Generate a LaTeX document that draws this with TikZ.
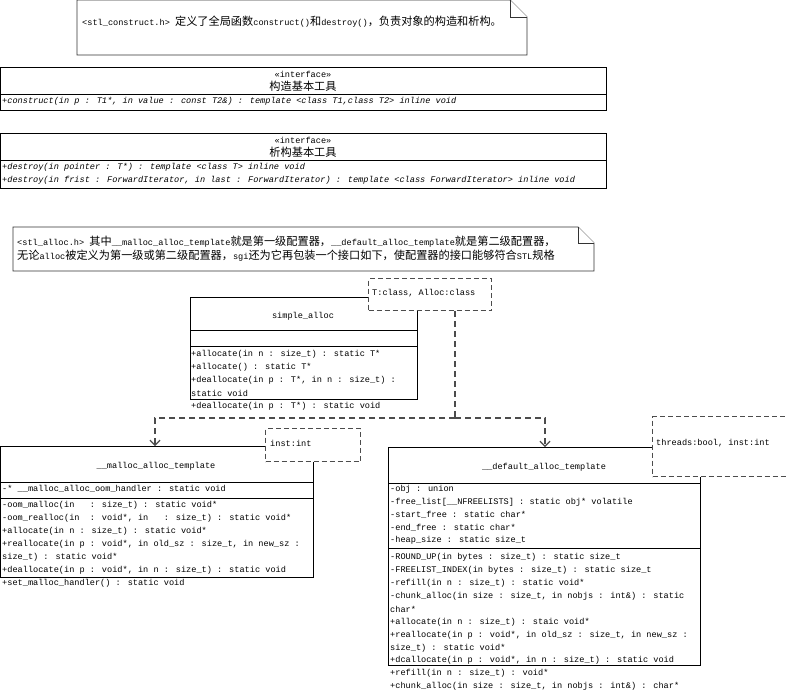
\documentclass[tikz,border=0pt]{standalone}
\usepackage{fontspec}
\setmainfont{Liberation Mono}
\newfontfamily\cjk{Noto Sans CJK SC}[Scale=1.3]
\usetikzlibrary{arrows.meta}
\tikzset{
  box/.style={draw=black, line width=0.8pt, fill=white},
  tbox/.style={draw=black!70, dashed, dash pattern=on 5pt off 3pt, line width=1.2pt, fill=white},
  dep/.style={draw=black!70, dash pattern=on 6pt off 4pt, line width=1.2pt},
  ln/.style={anchor=west, inner sep=0pt, font=\fontsize{8.6}{10}\selectfont},
  it/.style={ln, font=\fontsize{8.6}{10}\selectfont\itshape},
  ctr/.style={anchor=center, inner sep=0pt, font=\fontsize{8.6}{10}\selectfont},
  notebox/.style={draw=black!80, line width=0.8pt, fill=white}
}
\begin{document}
\begin{tikzpicture}[x=1pt,y=-1pt]
\useasboundingbox (0,0) rectangle (786,691);
% note 1
\draw[notebox] (77,0) -- (510,0) -- (527,17) -- (527,55) -- (77,55) -- cycle;
\draw[notebox] (510,0) -- (510,17) -- (527,17);
\node[ln] (n1) at (82,22) {<stl\_construct.h> {\cjk 定义了全局函数}construct(){\cjk 和}destroy(){\cjk ，负责对象的构造和析构。}};
% interface 1
\node[box, anchor=north west, minimum width=606pt, minimum height=43pt] (if1) at (0,67) {};
\draw[line width=0.8pt] (0,94) -- (606,94);
\node[ctr] at (303,74) {<<interface>>};
\node[ctr] at (303,86) {\cjk 构造基本工具};
\node[it] at (2,101) {+construct(in p : T1*, in value : const T2\&) : template <class T1,class T2> inline void};
% interface 2
\node[box, anchor=north west, minimum width=606pt, minimum height=55pt] (if2) at (0,133) {};
\draw[line width=0.8pt] (0,160) -- (606,160);
\node[ctr] at (303,140) {<<interface>>};
\node[ctr] at (303,152) {\cjk 析构基本工具};
\node[it] at (2,167) {+destroy(in pointer : T*) : template <class T> inline void};
\node[it] at (2,180) {+destroy(in frist : ForwardIterator, in last : ForwardIterator) : template <class ForwardIterator> inline void};
% note 2
\draw[notebox] (13,227) -- (578,227) -- (594,243) -- (594,271) -- (13,271) -- cycle;
\draw[notebox] (578,227) -- (578,243) -- (594,243);
\node[ln] at (17,242) {<stl\_alloc.h> {\cjk 其中}\_\_malloc\_alloc\_template{\cjk 就是第一级配置器，}\_\_default\_alloc\_template{\cjk 就是第二级配置器，}};
\node[ln] at (17,256) {{\cjk 无论}alloc{\cjk 被定义为第一级或第二级配置器，}sgi{\cjk 还为它再包装一个接口如下，使配置器的接口能够符合}STL{\cjk 规格}};
% simple_alloc
\node[box, anchor=north west, minimum width=227pt, minimum height=102pt] (sa) at (190,297) {};
\draw[line width=0.8pt] (190,330) -- (417,330);
\draw[line width=0.8pt] (190,346) -- (417,346);
\node[ctr] at (303,316) {simple\_alloc};
\node[ln] at (191,354) {+allocate(in n : size\_t) : static T*};
\node[ln] at (191,367) {+allocate() : static T*};
\node[ln] at (191,380) {+deallocate(in p : T*, in n : size\_t) :};
\node[ln] at (191,393) {static void};
\node[ln] at (191,406) {+deallocate(in p : T*) : static void};
\node[tbox, anchor=north west, minimum width=123pt, minimum height=32pt] (tsa) at (368,278) {};
\node[ln] at (372,293) {T:class, Alloc:class};
% malloc
\node[box, anchor=north west, minimum width=313pt, minimum height=131pt] (ma) at (0,446) {};
\draw[line width=0.8pt] (0,482) -- (313,482);
\draw[line width=0.8pt] (0,498) -- (313,498);
\node[ctr] at (156,466) {\_\_malloc\_alloc\_template};
\node[ln] at (2,489) {-* \_\_malloc\_alloc\_oom\_handler : static void};
\node[ln] at (2,505) {-oom\_malloc(in \ \ : size\_t) : static void*};
\node[ln] at (2,518) {-oom\_realloc(in \ : void*, in \ \ : size\_t) : static void*};
\node[ln] at (2,531) {+allocate(in n : size\_t) : static void*};
\node[ln] at (2,544) {+reallocate(in p : void*, in old\_sz : size\_t, in new\_sz :};
\node[ln] at (2,557) {size\_t) : static void*};
\node[ln] at (2,570) {+deallocate(in p : void*, in n : size\_t) : static void};
\node[ln] at (2,583) {+set\_malloc\_handler() : static void};
\node[tbox, anchor=north west, minimum width=95pt, minimum height=33pt] (tma) at (265,428) {};
\node[ln] at (270,443) {inst:int};
% default
\node[box, anchor=north west, minimum width=312pt, minimum height=218pt] (da) at (388,447) {};
\draw[line width=0.8pt] (388,483) -- (700,483);
\draw[line width=0.8pt] (388,548) -- (700,548);
\node[ctr] at (544,467) {\_\_default\_alloc\_template};
\node[ln] at (390,489) {-obj : union};
\node[ln] at (390,502) {-free\_list[\_\_NFREELISTS] : static obj* volatile};
\node[ln] at (390,515) {-start\_free : static char*};
\node[ln] at (390,528) {-end\_free : static char*};
\node[ln] at (390,540) {-heap\_size : static size\_t};
\node[ln] at (390,557) {-ROUND\_UP(in bytes : size\_t) : static size\_t};
\node[ln] at (390,570) {-FREELIST\_INDEX(in bytes : size\_t) : static size\_t};
\node[ln] at (390,583) {-refill(in n : size\_t) : static void*};
\node[ln] at (390,596) {-chunk\_alloc(in size : size\_t, in nobjs : int\&) : static};
\node[ln] at (390,609) {char*};
\node[ln] at (390,622) {+allocate(in n : size\_t) : staic void*};
\node[ln] at (390,635) {+reallocate(in p : void*, in old\_sz : size\_t, in new\_sz :};
\node[ln] at (390,648) {size\_t) : static void*};
\node[ln] at (390,660) {+dcallocate(in p : void*, in n : size\_t) : static void};
\node[ln] at (390,673) {+refill(in n : size\_t) : void*};
\node[ln] at (390,686) {+chunk\_alloc(in size : size\_t, in nobjs : int\&) : char*};
\node[tbox, anchor=north west, minimum width=136pt, minimum height=60pt] (tda) at (652,416) {};
\node[ln] at (656,443) {threads:bool, inst:int};
% connectors
\coordinate (j) at (455,418);
\draw[dep] (tsa.south -| j) -- (j);
\draw[dep, -{Straight Barb[length=5pt,width=10pt]}] (j) -- (155,418) -- (155,446);
\draw[dep, -{Straight Barb[length=5pt,width=10pt]}] (j) -- (545,418) -- (545,447);
\end{tikzpicture}
\end{document}
